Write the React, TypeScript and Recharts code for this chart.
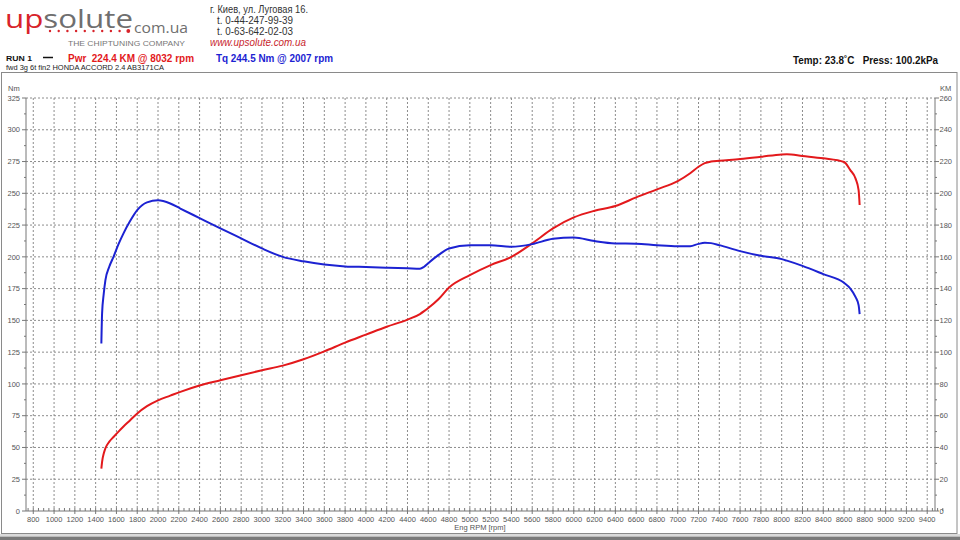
import React from 'react';
import { ComposedChart, Line, XAxis, YAxis, CartesianGrid } from 'recharts';

// Engine speed samples (rpm)
const RPM = [1455, 1462, 1478, 1494, 1530, 1572, 1620, 1668, 1730, 1800, 1894, 2000, 2118, 2215, 2400, 2600, 2800, 3000, 3200, 3400, 3600, 3800, 4000, 4200, 4400, 4520, 4560, 4600, 4700, 4800, 5000, 5200, 5400, 5600, 5800, 6000, 6200, 6400, 6600, 6800, 7000, 7120, 7200, 7260, 7320, 7400, 7600, 7800, 8000, 8050, 8200, 8400, 8600, 8660, 8710, 8740, 8750];
// Torque (Nm) – left axis
const TORQUE_NM = [131.8, 155.5, 171, 181.7, 192, 200, 210, 218.5, 228, 236.8, 242.9, 244.5, 242, 238, 230.5, 222.4, 214.5, 206.6, 200, 196.5, 194, 192.5, 192, 191.5, 191, 190.6, 192.2, 195, 201.5, 206.6, 209.2, 209.2, 207.9, 210, 214.2, 215.3, 212.4, 210.6, 210.4, 209.2, 208.4, 208.4, 210.2, 211, 210.8, 209.2, 204.5, 200.8, 198.2, 197, 192.9, 186.4, 179.6, 175.1, 168.5, 162, 154.9];
// Power (KM) – right axis
const POWER_KM = [26.7, 31, 36.2, 39.5, 43.5, 46.6, 50, 53.2, 57, 61.4, 66, 69.7, 72.6, 75, 79, 82.3, 85.5, 88.6, 91.5, 95.5, 100.5, 106, 111, 116, 120.5, 124, 125.8, 127.8, 133.5, 140.7, 148.5, 154.8, 160, 168.5, 177.9, 184.8, 189, 192, 197.4, 202.5, 207.7, 212.6, 216.7, 219, 220, 220.5, 221.6, 223, 224.5, 224.6, 223.5, 222, 219.7, 214.6, 209.4, 202, 192.6];

// Tick labels
const X_MAJOR_TICKS = [800, 1000, 1200, 1400, 1600, 1800, 2000, 2200, 2400, 2600, 2800, 3000, 3200, 3400, 3600, 3800, 4000, 4200, 4400, 4600, 4800, 5000, 5200, 5400, 5600, 5800, 6000, 6200, 6400, 6600, 6800, 7000, 7200, 7400, 7600, 7800, 8000, 8200, 8400, 8600, 8800, 9000, 9200, 9400];
const NM_MAJOR_TICKS = [0, 25, 50, 75, 100, 125, 150, 175, 200, 225, 250, 275, 300, 325];
const KM_MAJOR_TICKS = [0, 20, 40, 60, 80, 100, 120, 140, 160, 180, 200, 220, 240, 260];

const X_ALL_TICKS: number[] = [750];
X_MAJOR_TICKS.forEach((t) => { X_ALL_TICKS.push(t, t + 50, t + 100, t + 150); });
const NM_ALL_TICKS: number[] = [];
NM_MAJOR_TICKS.forEach((t, i) => { NM_ALL_TICKS.push(t); if (i < NM_MAJOR_TICKS.length - 1) NM_ALL_TICKS.push(t + 12.5); });
const KM_ALL_TICKS: number[] = [];
KM_MAJOR_TICKS.forEach((t, i) => { KM_ALL_TICKS.push(t); if (i < KM_MAJOR_TICKS.length - 1) KM_ALL_TICKS.push(t + 10); });

const data = RPM.map((rpm, i) => ({ rpm, torque: TORQUE_NM[i], power: POWER_KM[i] }));

const FONT = '"Liberation Sans", Arial, sans-serif';
const TICK_COLOR = '#555';
const AXIS_COLOR = '#777';
const RED = '#e3191c';
const BLUE = '#1c22d2';

const renderXTick = (props: any) => {
  const { x, y, payload } = props;
  const v = payload.value;
  const major = v % 200 === 0;
  return (
    <g>
      <line x1={x} x2={x} y1={y - 3} y2={major ? y + 3 : y} stroke={AXIS_COLOR} strokeWidth={1} />
      {major && (
        <text x={x} y={y + 11} textAnchor="middle" fontSize={7.5} fill={TICK_COLOR} fontFamily={FONT}>{v}</text>
      )}
    </g>
  );
};

const renderNmTick = (props: any) => {
  const { x, y, payload } = props;
  const v = payload.value;
  const major = v % 25 === 0;
  return (
    <g>
      <line x1={x - (major ? 4 : 2)} x2={x} y1={y} y2={y} stroke={AXIS_COLOR} strokeWidth={1} />
      {major && (
        <text x={x - 6} y={y + 2.7} textAnchor="end" fontSize={7.5} fill={TICK_COLOR} fontFamily={FONT}>{v}</text>
      )}
    </g>
  );
};

const renderKmTick = (props: any) => {
  const { x, y, payload } = props;
  const v = payload.value;
  const major = v % 20 === 0;
  return (
    <g>
      <line x1={x} x2={x + (major ? 4 : 2)} y1={y} y2={y} stroke={AXIS_COLOR} strokeWidth={1} />
      {major && (
        <text x={x + 4.5} y={y + 2.7} textAnchor="start" fontSize={7.5} fill={TICK_COLOR} fontFamily={FONT}>{v}</text>
      )}
    </g>
  );
};

const LOGO_DOTS = [50, 58.7, 67.4, 76.1, 84.8, 93.5, 102.2, 110.9, 119.6, 128.3];

export default function App() {
  return (
    <div style={{ position: 'absolute', left: 0, top: 0, width: 960, height: 540, background: '#fff', fontFamily: FONT, overflow: 'hidden' }}>
      <div style={{ position: 'absolute', left: 0, top: 0 }}>
        <ComposedChart width={960} height={540} data={data} margin={{ top: 98, right: 5, bottom: 9, left: 6 }}>
          <CartesianGrid
            xAxisId="rpm"
            yAxisId="nm"
            horizontalValues={NM_MAJOR_TICKS.filter((t) => t > 0)}
            verticalValues={X_MAJOR_TICKS}
            stroke="#8c8c8c"
            strokeDasharray="2 2"
            strokeWidth={1}
          />
          <XAxis
            xAxisId="rpm"
            dataKey="rpm"
            type="number"
            domain={[730, 9475]}
            allowDataOverflow
            ticks={X_ALL_TICKS}
            interval={0}
            tick={renderXTick}
            tickLine={false}
            tickSize={0}
            tickMargin={0}
            axisLine={{ stroke: AXIS_COLOR, strokeWidth: 1 }}
            height={20}
          />
          <YAxis
            yAxisId="nm"
            orientation="left"
            type="number"
            domain={[0, 325]}
            allowDataOverflow
            ticks={NM_ALL_TICKS}
            interval={0}
            tick={renderNmTick}
            tickLine={false}
            tickSize={0}
            tickMargin={0}
            axisLine={{ stroke: AXIS_COLOR, strokeWidth: 1 }}
            width={20}
          />
          <YAxis
            yAxisId="km"
            orientation="right"
            type="number"
            domain={[0, 260]}
            allowDataOverflow
            ticks={KM_ALL_TICKS}
            interval={0}
            tick={renderKmTick}
            tickLine={false}
            tickSize={0}
            tickMargin={0}
            axisLine={{ stroke: AXIS_COLOR, strokeWidth: 1 }}
            width={20}
          />
          <Line xAxisId="rpm" yAxisId="km" type="monotone" dataKey="power" stroke={RED} strokeWidth={2} dot={false} activeDot={false} isAnimationActive={false} />
          <Line xAxisId="rpm" yAxisId="nm" type="monotone" dataKey="torque" stroke={BLUE} strokeWidth={2} dot={false} activeDot={false} isAnimationActive={false} />
        </ComposedChart>
      </div>
      <svg width={960} height={540} style={{ position: 'absolute', left: 0, top: 0, pointerEvents: 'none' }}>
        {/* frame */}
        <rect x={1.5} y={72.5} width={955.5} height={461} fill="none" stroke="#8a8a8a" strokeWidth={1} />
        <line x1={0} x2={960} y1={535} y2={535} stroke="#b5b5b5" strokeWidth={1} />
        <rect x={0} y={536.5} width={960} height={3.5} fill="#7a7a7a" />
        {/* logo */}
        <text x={5} y={28} fontSize={26} fontFamily='"Open Sans", sans-serif' fontWeight={400} textLength={128} lengthAdjust="spacingAndGlyphs">
          <tspan fill="#d8232a">up</tspan>
          <tspan fill="#6f6f6f">solute</tspan>
        </text>
        <text x={134} y={33} fontSize={15} fontFamily='"Open Sans", sans-serif' fill="#6f6f6f" textLength={54} lengthAdjust="spacingAndGlyphs">com.ua</text>
        {LOGO_DOTS.map((dx, i) => (
          <circle key={i} cx={dx} cy={31} r={i === LOGO_DOTS.length - 1 ? 1.9 : 1.2} fill="#d8232a" />
        ))}
        <text x={68} y={46} fontSize={7} fill="#777" fontFamily={FONT} textLength={117} lengthAdjust="spacingAndGlyphs">THE CHIPTUNING COMPANY</text>
        {/* address */}
        <text x={210} y={12.8} fontSize={10} fill="#333" fontFamily={FONT} textLength={98} lengthAdjust="spacingAndGlyphs">г. Киев, ул. Луговая 16.</text>
        <text x={217} y={24.2} fontSize={10} fill="#333" fontFamily={FONT} textLength={76} lengthAdjust="spacingAndGlyphs">t. 0-44-247-99-39</text>
        <text x={217} y={35.3} fontSize={10} fill="#333" fontFamily={FONT} textLength={76} lengthAdjust="spacingAndGlyphs">t. 0-63-642-02-03</text>
        <text x={210} y={46.3} fontSize={10} fill="#c8262c" fontStyle="italic" fontFamily={FONT} textLength={96} lengthAdjust="spacingAndGlyphs">www.upsolute.com.ua</text>
        {/* run info */}
        <text x={6} y={60.5} fontSize={8} fontWeight="bold" fill="#111" fontFamily={FONT} textLength={26} lengthAdjust="spacingAndGlyphs">RUN 1</text>
        <line x1={43} x2={53} y1={57.5} y2={57.5} stroke="#111" strokeWidth={1.5} />
        <text x={68} y={61.6} fontSize={10.5} fontWeight="bold" fill={RED} fontFamily={FONT} textLength={126} lengthAdjust="spacingAndGlyphs" style={{ whiteSpace: 'pre' }}>Pwr  224.4 KM @ 8032 rpm</text>
        <text x={216} y={61.6} fontSize={10.5} fontWeight="bold" fill={BLUE} fontFamily={FONT} textLength={117} lengthAdjust="spacingAndGlyphs">Tq 244.5 Nm @ 2007 rpm</text>
        <text x={6} y={69.6} fontSize={8} fill="#222" fontFamily={FONT} textLength={158} lengthAdjust="spacingAndGlyphs">fwd 3g 6t fin2 HONDA ACCORD 2.4 AB3171CA</text>
        <text x={793} y={63.6} fontSize={10} fontWeight="bold" fill="#111" fontFamily={FONT} textLength={145} lengthAdjust="spacingAndGlyphs" style={{ whiteSpace: 'pre' }}>Temp: 23.8˚C   Press: 100.2kPa</text>
        {/* axis titles */}
        <text x={8} y={91} fontSize={7.5} fill={TICK_COLOR} fontFamily={FONT}>Nm</text>
        <text x={940} y={91} fontSize={7.5} fill={TICK_COLOR} fontFamily={FONT}>KM</text>
        <text x={480} y={529.5} fontSize={7.5} fill={TICK_COLOR} fontFamily={FONT} textAnchor="middle">Eng RPM [rpm]</text>
      </svg>
    </div>
  );
}
